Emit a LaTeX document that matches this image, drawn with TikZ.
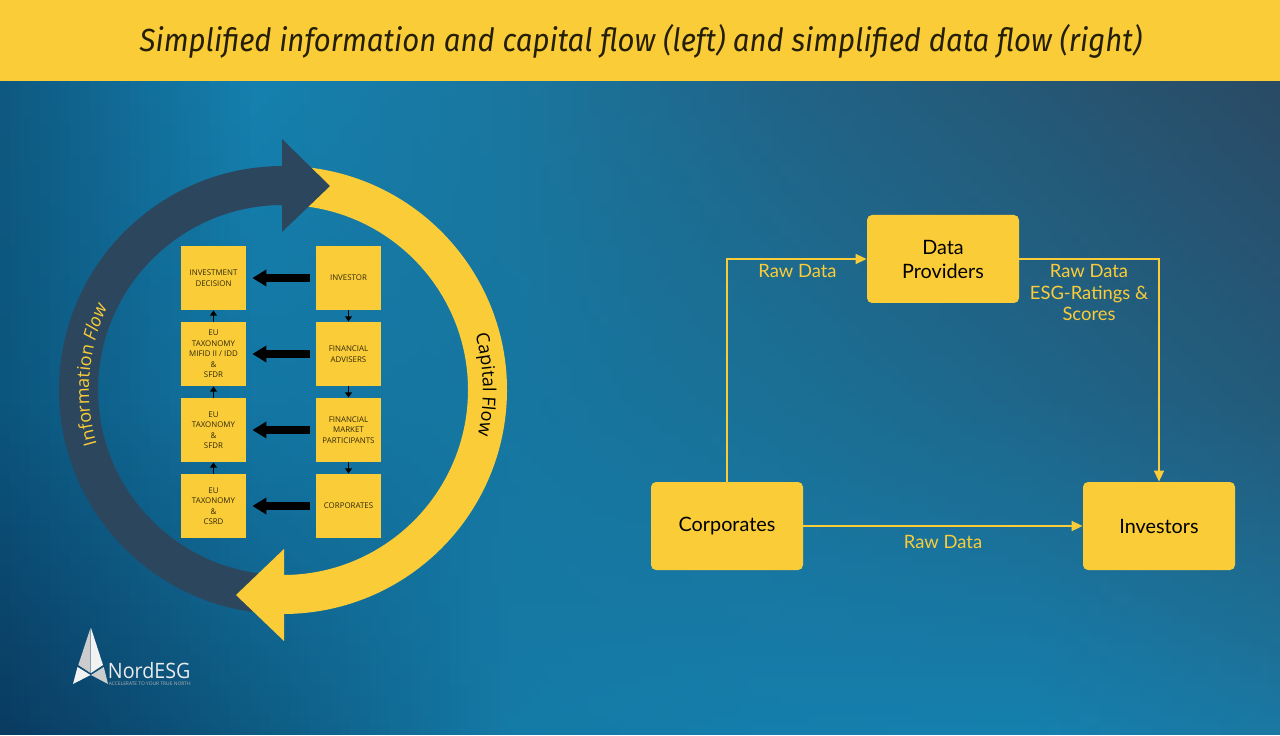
\documentclass[tikz,border=0pt]{standalone}
\usepackage{fontspec}
\usetikzlibrary{arrows.meta,decorations.text,calc}
\setmainfont{Lato}
\newfontfamily\titlef{Fira Sans}
\newfontfamily\opens{Open Sans}
\newfontfamily\nunf{Lato}
\definecolor{ngold}{RGB}{250,205,56}
\definecolor{slate}{RGB}{44,70,93}
\tikzset{
 tbox/.style={fill=ngold,draw=none,minimum width=32.5pt,minimum height=32pt,inner sep=0pt,align=center,text=black!80!ngold,font=\opens\fontsize{3.95}{5.25}\selectfont},
 rbox/.style={fill=ngold,draw=none,rounded corners=2.5pt,minimum width=76pt,minimum height=44pt,inner sep=0pt,align=center,text=black,font=\nunf\fontsize{9.9}{12}\selectfont},
 rlabel/.style={text=ngold,align=center,inner sep=0pt,font=\nunf\fontsize{9.2}{10.8}\selectfont},
 conn/.style={draw=ngold,line width=0.8pt,-{Triangle[length=5.5pt,width=5pt]}},
 bigarrow/.style={draw=black,line width=4pt,-{Triangle[length=7pt,width=8pt]},shorten >=3pt,shorten <=3pt},
 smallarrow/.style={draw=black,line width=0.7pt,-{Triangle[length=2.6pt,width=3.4pt]}},
 ring/.style={line width=19.5pt},
}
\begin{document}
\begin{tikzpicture}[x=0.5pt,y=0.5pt]
\useasboundingbox (0,0) rectangle (1280,735);
% background mesh
\def\RA{{14,21,26,32,37,42}}\def\GA{{88,128,118,100,88,74}}\def\BA{{128,174,158,136,118,100}}
\def\RB{{11,19,22,26,30,35}}\def\GB{{85,118,118,112,102,90}}\def\BB{{125,163,160,150,138,122}}
\def\RC{{10,13,20,21,21,26}}\def\GC{{58,90,122,126,128,120}}\def\BC{{96,130,166,172,174,162}}
\foreach \i in {0,...,127}{
 \pgfmathsetmacro\uu{(\i+.5)*10/256}
 \pgfmathtruncatemacro\ui{min(4,floor(\uu))}
 \pgfmathsetmacro\uf{\uu-\ui}
 \pgfmathsetmacro\ra{\RA[\ui]*(1-\uf)+\RA[\ui+1]*\uf}
 \pgfmathsetmacro\ga{\GA[\ui]*(1-\uf)+\GA[\ui+1]*\uf}
 \pgfmathsetmacro\ba{\BA[\ui]*(1-\uf)+\BA[\ui+1]*\uf}
 \pgfmathsetmacro\rb{\RB[\ui]*(1-\uf)+\RB[\ui+1]*\uf}
 \pgfmathsetmacro\gb{\GB[\ui]*(1-\uf)+\GB[\ui+1]*\uf}
 \pgfmathsetmacro\bb{\BB[\ui]*(1-\uf)+\BB[\ui+1]*\uf}
 \pgfmathsetmacro\rc{\RC[\ui]*(1-\uf)+\RC[\ui+1]*\uf}
 \pgfmathsetmacro\gc{\GC[\ui]*(1-\uf)+\GC[\ui+1]*\uf}
 \pgfmathsetmacro\bc{\BC[\ui]*(1-\uf)+\BC[\ui+1]*\uf}
 \pgfmathsetmacro\xa{\i*10}
 \pgfmathsetmacro\xb{\i*10+10.6}
 \foreach \j in {0,...,65}{
  \pgfmathsetmacro\yy{\j*10+5}
  \ifdim\yy pt<335pt
   \pgfmathsetmacro\t{\yy/335}
   \pgfmathsetmacro\R{(\rc+(\rb-\rc)*\t)/255}
   \pgfmathsetmacro\G{(\gc+(\gb-\gc)*\t)/255}
   \pgfmathsetmacro\B{(\bc+(\bb-\bc)*\t)/255}
  \else
   \pgfmathsetmacro\t{min(1,(\yy-335)/319)}
   \pgfmathsetmacro\R{(\rb+(\ra-\rb)*\t)/255}
   \pgfmathsetmacro\G{(\gb+(\ga-\gb)*\t)/255}
   \pgfmathsetmacro\B{(\bb+(\ba-\bb)*\t)/255}
  \fi
  \definecolor{cell}{rgb}{\R,\G,\B}
  \pgfmathsetmacro\ya{\j*10}
  \pgfmathsetmacro\yb{\j*10+10.6}
  \fill[cell] (\xa,\ya) rectangle (\xb,\yb);
 }
}
% title bar
\fill[ngold] (0,654) rectangle (1280,735);
\node[name=title,inner sep=0pt,text=black!85!ngold] at (641,694) {\scalebox{0.918}[1]{\titlef\itshape\fontsize{16}{20}\selectfont Simplified information and capital flow (left) and simplified data flow (right)}};
% rings
\draw[slate,ring] (283,345) ++(90:204.5) arc[start angle=90,end angle=265,radius=204.5];
\draw[ngold,ring] (283,345) ++(85:204.5) arc[start angle=85,end angle=-90,radius=204.5];
\fill[slate] (282,596) -- (330,549) -- (282,503) -- cycle;
\fill[ngold] (284,186) -- (236,140) -- (284,94) -- cycle;
% curved labels
\path[decorate,decoration={text along path,text align=center,text color=ngold,text={|\opens\fontsize{9}{9}\selectfont|Information |\opens\itshape\fontsize{9}{9}\selectfont|Flow}}]
 (283,345) ++(199:194) arc[start angle=199,end angle=152,radius=194];
\path[decorate,decoration={text along path,text align=center,text color=black,text={|\opens\fontsize{9}{9}\selectfont|Capital Flow}}]
 (283,345) ++(17:200) arc[start angle=17,end angle=-14,radius=200];
% left boxes
\node[tbox] (dec) at (213.5,457) {INVESTMENT\\DECISION};
\node[tbox] (mifid) at (213.5,381) {EU\\TAXONOMY\\MIFID II / IDD\\\&\\SFDR};
\node[tbox] (sfdr) at (213.5,305) {EU\\TAXONOMY\\\&\\SFDR};
\node[tbox] (csrd) at (213.5,229) {EU\\TAXONOMY\\\&\\CSRD};
\node[tbox] (inv) at (348.5,457) {INVESTOR};
\node[tbox] (adv) at (348.5,381) {FINANCIAL\\ADVISERS};
\node[tbox] (fmp) at (348.5,305) {FINANCIAL\\MARKET\\PARTICIPANTS};
\node[tbox] (corpl) at (348.5,229) {CORPORATES};
\foreach \a/\b in {inv/dec,adv/mifid,fmp/sfdr,corpl/csrd}
 \draw[bigarrow] (\a.west) -- (\b.east);
\foreach \a/\b in {mifid/dec,sfdr/mifid,csrd/sfdr,inv/adv,adv/fmp,fmp/corpl}
 \draw[smallarrow] (\a) -- (\b);
% right diagram
\node[rbox] (prov) at (943,476) {Data\\Providers};
\node[rbox] (corp) at (727,209) {Corporates};
\node[rbox] (invs) at (1159,209) {Investors};
\draw[conn] (corp.north) |- (prov.west);
\draw[conn] (prov.east) -| (invs.north);
\draw[conn] (corp.east) -- (invs.west);
\node[rlabel] (l1) at (797.5,464.5) {Raw Data};
\node[rlabel] (l2) at (1089,442.5) {Raw Data\\ESG-Ratings \&\\Scores};
\node[rlabel] (l3) at (943,193.5) {Raw Data};
% logo
\fill[blue!5!black!20!white] (90.5,107) -- (78.3,70) -- (90.5,62) -- cycle;
\fill[white!95!black] (91,107) -- (103,70) -- (91,62) -- cycle;
\fill[white!95!black] (77.5,68) -- (73,51) -- (90.5,60) -- cycle;
\fill[black!20!white] (103.8,68) -- (108,51) -- (91,60) -- cycle;
\node[anchor=base west,inner sep=0pt,text=white!92!black] (nord) at (107.5,57) {\scalebox{0.93}[1]{\opens\fontsize{10.6}{12}\selectfont NordESG}};
\node[anchor=base west,inner sep=0pt,text=white!70!black] (tag) at (108.5,50) {\opens\fontsize{2.45}{3}\selectfont ACCELERATE TO YOUR TRUE NORTH};
\end{tikzpicture}
\end{document}
